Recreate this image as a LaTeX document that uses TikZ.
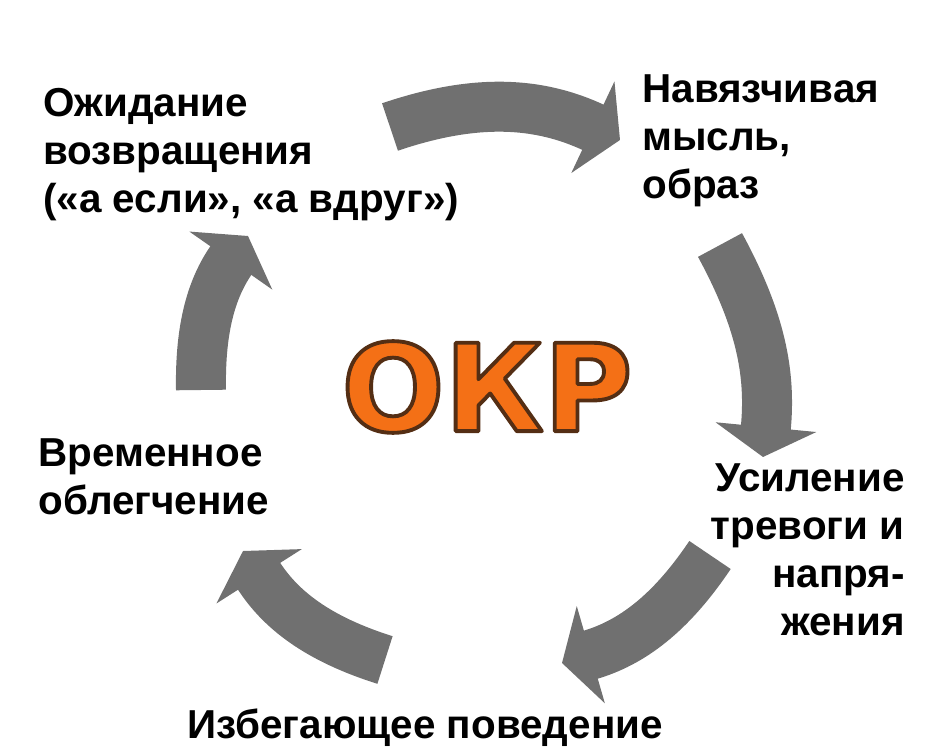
\documentclass[tikz,border=0pt]{standalone}
\usepackage{fontspec}
\setmainfont{Liberation Sans}
\newfontfamily\okrfont{DejaVu Sans}
\usetikzlibrary{arrows.meta}
\definecolor{arrowgray}{RGB}{112,112,112}
\definecolor{okrorange}{RGB}{244,112,22}
\newcommand{\rimtext}[1]{\special{pdf:literal direct q 0.33 0.18 0.08 RG 2.2 w 1 j 2 Tr}#1\special{pdf:literal direct Q}}

\begin{document}
\begin{tikzpicture}[x=0.02cm, y=-0.02cm,
        phase/.style={font=\fontsize{23}{27.3}\selectfont\bfseries, inner sep=0pt},
        cyclearrow/.style={arrowgray, line width=1cm, -{Triangle[width=2cm, length=0.6cm]}},
        okrtext/.style={font=\okrfont\fontsize{69}{69}\selectfont\bfseries, text=okrorange, inner sep=0pt}]
            \useasboundingbox (0,0) rectangle (946,756);

            \coordinate (C)  at (487,387);
            \coordinate (T1) at (390,127); \coordinate (H1) at (620,140);
            \coordinate (T2) at (720,245); \coordinate (H2) at (763,457);
            \coordinate (T3) at (710,555); \coordinate (H3) at (562,663);
            \coordinate (T4) at (385,660); \coordinate (H4) at (243,551);
            \coordinate (T5) at (201,390); \coordinate (H5) at (248,236);

            \draw[cyclearrow] (T1) to[bend left=22] (H1);% Draw top arrow
            \draw[cyclearrow] (T2) to[bend left=17] (H2);% Draw right arrow
            \draw[cyclearrow] (T3) to[bend left=20] (H3);% Draw lower right arrow
            \draw[cyclearrow] (T4) to[bend left=20] (H4);% Draw lower left arrow
            \draw[cyclearrow] (T5) to[bend left=18] (H5);% Draw left arrow

            \node[okrtext] (okr) at (C) {\rimtext{ОКР}};

            \node[phase, anchor=north west, align=left] (wait) at (43,88) {Ожидание\\возвращения\\(«а если», «а вдруг»)};
            \node[phase, anchor=north west, align=left] (thought) at (642,74) {Навязчивая\\мысль,\\образ};
            \node[phase, anchor=north east, align=right] (anxiety) at (905,463) {Усиление\\тревоги и\\напря-\\жения};
            \node[phase, anchor=north west, align=left] (relief) at (38,438) {Временное\\облегчение};
            \node[phase, anchor=base] (avoid) at (425,738) {Избегающее поведение};
        \end{tikzpicture}
\end{document}
